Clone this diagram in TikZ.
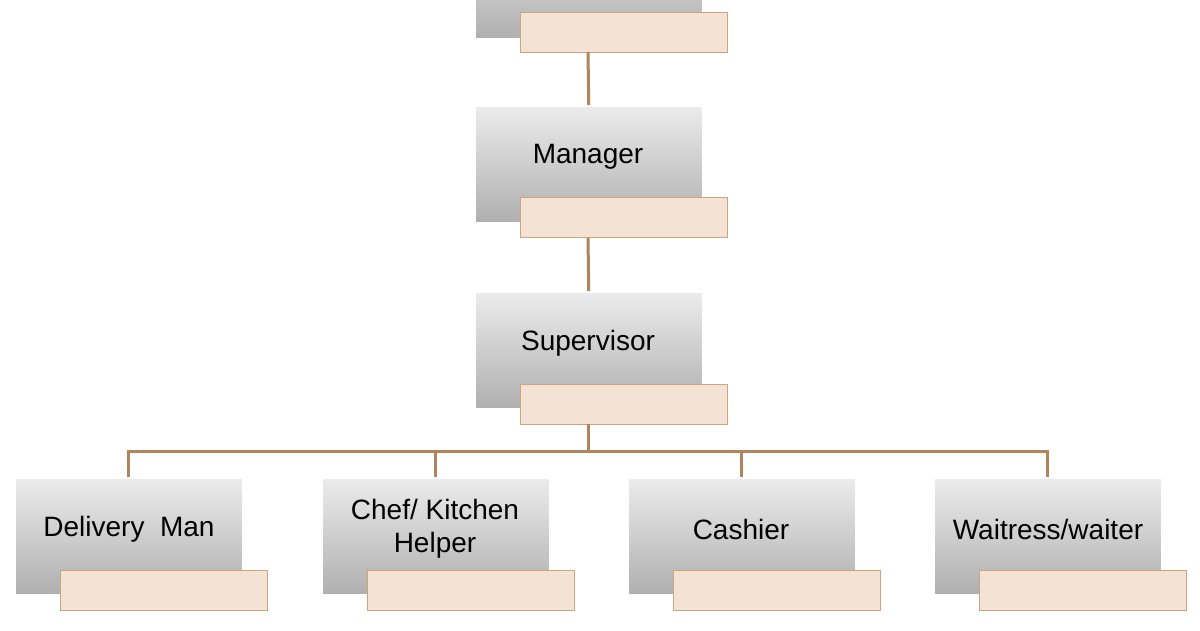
\documentclass[tikz,border=0pt]{standalone}
\usepackage{fontspec}
\setmainfont{Liberation Sans}
\definecolor{lnk}{RGB}{176,132,92}
\definecolor{tagf}{RGB}{244,226,212}
\definecolor{tagd}{RGB}{205,165,125}
\definecolor{gtop}{RGB}{236,236,236}
\definecolor{gbot}{RGB}{175,175,175}
\begin{document}
\begin{tikzpicture}[x=1pt,y=-1pt,
  role/.style={draw=white,line width=1.5pt,top color=gtop,bottom color=gbot,minimum width=228pt,minimum height=117pt,anchor=north west,inner sep=0pt},
  lbl/.style={align=center,font=\fontsize{28}{33}\selectfont,text=black,inner sep=0pt},
  tag/.style={draw=tagd,line width=1pt,fill=tagf,minimum width=207pt,minimum height=40pt,anchor=north west,inner sep=0pt},
  link/.style={draw=lnk,line width=3pt}]
\useasboundingbox (0,0) rectangle (1200,630);
\fill[white] (0,0) rectangle (1200,630);
\node[role] (ceo) at (474,-79) {};
\node[tag] (t0) at (520,12) {};
\node[role] (man) at (474,105) {};
\node[lbl] (lman) at (588,157) {Manager};
\node[tag] (t1) at (520,197) {};
\node[role] (sup) at (474,291) {};
\node[lbl] (lsup) at (588,343) {Supervisor};
\node[tag] (t2) at (520,384) {};
\node[role] (d) at (14,477) {};
\node[role] (c) at (321,477) {};
\node[role] (k) at (627,477) {};
\node[role] (w) at (933,477) {};
\node[lbl] (ld) at (129,529) {Delivery\ \ Man};
\node[lbl] (lc) at (435,529) {Chef/ Kitchen\\Helper};
\node[lbl] (lk) at (741,529) {Cashier};
\node[lbl] (lw) at (1048,529) {Waitress/waiter};
\node[tag] (td) at (60,570) {};
\node[tag] (tc) at (367,570) {};
\node[tag] (tk) at (673,570) {};
\node[tag] (tw) at (979,570) {};
\coordinate (bus) at (588,451);
\draw[link] (588,52) -- (man.north);
\draw[link] (588,238) -- (sup.north);
\draw[link] (588,424) -- (bus);
\draw[link] (d.north) -- (bus -| d.north) -- (bus -| w.north) -- (w.north);
\draw[link] (c.north) -- (bus -| c.north);
\draw[link] (k.north) -- (bus -| k.north);
\end{tikzpicture}
\end{document}
